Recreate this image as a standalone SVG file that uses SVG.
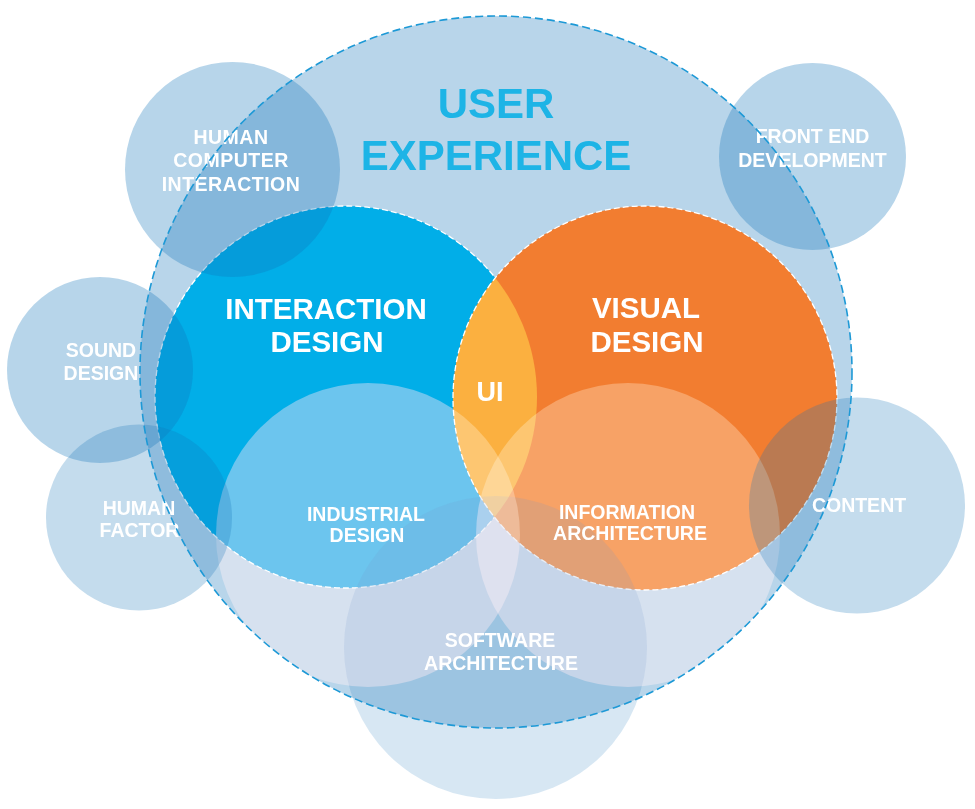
<svg xmlns="http://www.w3.org/2000/svg" width="975" height="809" viewBox="0 0 975 809">
  <defs>
    <clipPath id="clipVisual">
      <circle cx="645" cy="398" r="192"/>
    </clipPath>
    <style>
      .lbl { font-family: "Liberation Sans", Arial, sans-serif; font-weight: bold; fill: #ffffff; text-anchor: middle; }
      .big { font-size: 29.5px; }
      .small { font-size: 19.5px; }
      .title { font-family: "Liberation Sans", Arial, sans-serif; font-weight: bold; fill: #1db4e6; text-anchor: middle; font-size: 42px; }
      .bubble { fill: #1273b9; }
      .screen { fill: #6b4842; mix-blend-mode: screen; }
      .wdash { fill: none; stroke: #ffffff; stroke-width: 1.3; stroke-dasharray: 6 3; }
      .bdash { fill: none; stroke: #1d99d6; stroke-width: 1.6; stroke-dasharray: 8 4; }
    </style>
  </defs>

  <rect x="0" y="0" width="975" height="809" fill="#ffffff"/>

  <g id="user-experience">
    <circle cx="496" cy="372" r="356" fill="#b8d5ea"/>
    <text class="title" x="496" y="118">USER</text>
    <text class="title" x="496" y="170">EXPERIENCE</text>
  </g>

  <g id="interaction-design">
    <circle cx="346" cy="397" r="191" fill="#01aee8"/>
    <circle class="wdash" cx="346" cy="397" r="191"/>
    <text class="lbl big" x="326" y="319">INTERACTION</text>
    <text class="lbl big" x="327" y="352">DESIGN</text>
  </g>

  <g id="visual-design">
    <circle cx="645" cy="398" r="192" fill="#f27d30"/>
    <text class="lbl big" x="646" y="318">VISUAL</text>
    <text class="lbl big" x="647" y="352">DESIGN</text>
  </g>

  <g id="ui">
    <circle cx="346" cy="397" r="191" fill="#fbb040" clip-path="url(#clipVisual)"/>
    <circle class="wdash" cx="645" cy="398" r="192"/>
    <text class="lbl" x="490" y="401" font-size="27">UI</text>
  </g>

  <g id="software-architecture">
    <circle class="bubble" cx="495.5" cy="647.5" r="151.5" opacity="0.17"/>
    <text class="lbl small" x="500" y="647">SOFTWARE</text>
    <text class="lbl small" x="501" y="670">ARCHITECTURE</text>
  </g>

  <g id="industrial-design">
    <circle class="screen" cx="368" cy="535" r="152"/>
    <text class="lbl small" x="366" y="521">INDUSTRIAL</text>
    <text class="lbl small" x="367" y="542">DESIGN</text>
  </g>

  <g id="information-architecture">
    <circle class="screen" cx="628" cy="535" r="152"/>
    <text class="lbl small" x="627" y="519">INFORMATION</text>
    <text class="lbl small" x="630" y="540">ARCHITECTURE</text>
  </g>

  <g id="human-computer-interaction">
    <circle class="bubble" cx="232.5" cy="169.5" r="107.5" opacity="0.3"/>
    <text class="lbl small" x="231" y="144" letter-spacing="0.5">HUMAN</text>
    <text class="lbl small" x="231" y="167" letter-spacing="0.5">COMPUTER</text>
    <text class="lbl small" x="231" y="191" letter-spacing="0.5">INTERACTION</text>
  </g>

  <g id="front-end-development">
    <circle class="bubble" cx="812.5" cy="156.5" r="93.5" opacity="0.3"/>
    <text class="lbl small" x="812.5" y="143">FRONT END</text>
    <text class="lbl small" x="812.5" y="167">DEVELOPMENT</text>
  </g>

  <g id="sound-design">
    <circle class="bubble" cx="100" cy="370" r="93" opacity="0.3"/>
    <text class="lbl small" x="101" y="357">SOUND</text>
    <text class="lbl small" x="101" y="380">DESIGN</text>
  </g>

  <g id="human-factor">
    <circle class="bubble" cx="139" cy="517.5" r="93" opacity="0.25"/>
    <text class="lbl small" x="139" y="515">HUMAN</text>
    <text class="lbl small" x="139.5" y="537">FACTOR</text>
  </g>

  <g id="content">
    <circle class="bubble" cx="857" cy="505.5" r="108" opacity="0.25"/>
    <text class="lbl small" x="859" y="512">CONTENT</text>
  </g>

  <g id="user-experience-outline">
    <circle class="bdash" cx="496" cy="372" r="356"/>
  </g>
</svg>
